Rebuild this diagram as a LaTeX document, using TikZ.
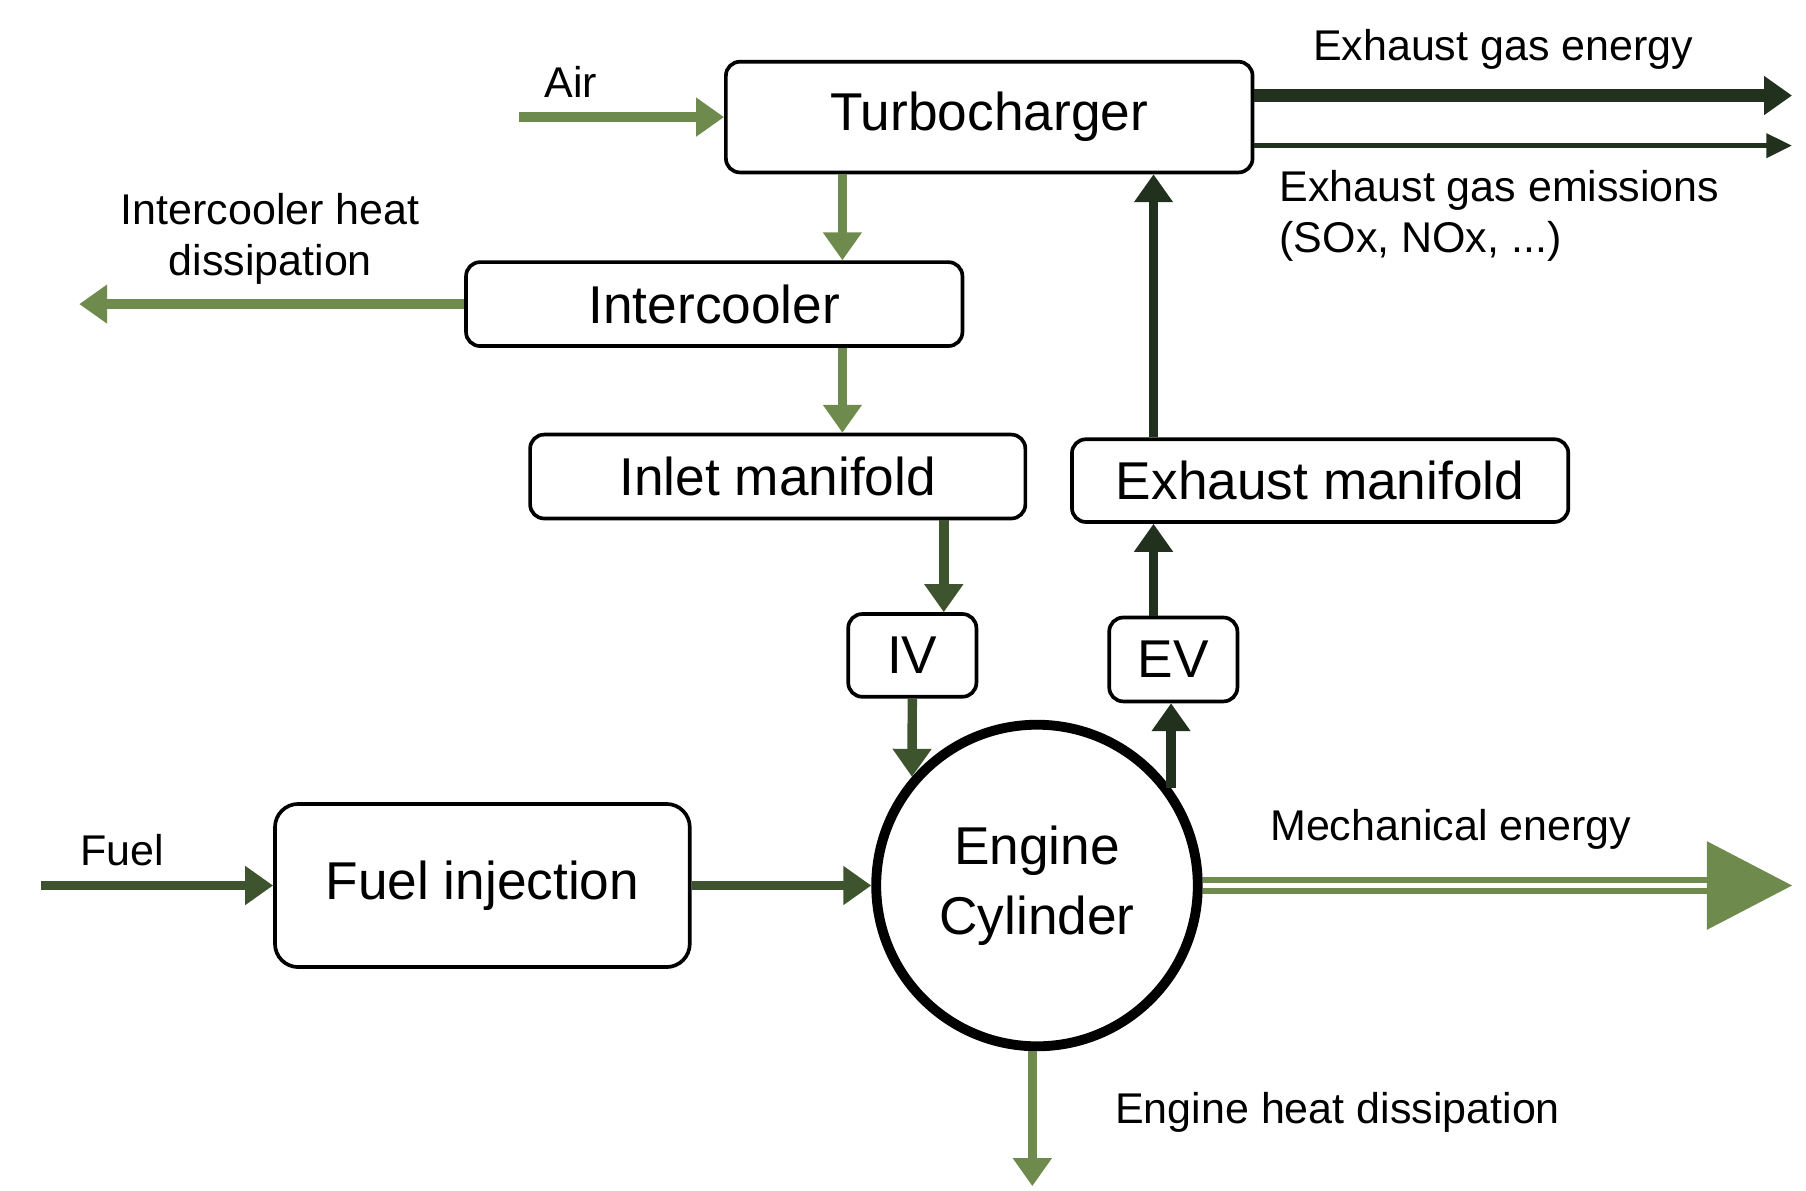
\documentclass[tikz,border=0pt]{standalone}
\usepackage{fontspec}
\setmainfont{Liberation Sans}
\usetikzlibrary{arrows.meta}
\definecolor{lgreen}{RGB}{110,138,76}
\definecolor{dgreen}{RGB}{62,84,46}
\definecolor{xgreen}{RGB}{34,48,30}
\tikzset{
  box/.style={draw, line width=0.9pt, rounded corners=0.12cm, inner sep=0pt, font=\fontsize{13}{15}\selectfont},
  lbl/.style={font=\fontsize{10.5}{12.5}\selectfont, inner sep=1pt},
  flow/.style={line width=2.3pt, -{Triangle[length=0.24cm,width=0.32cm]}},
}
\begin{document}
\begin{tikzpicture}
\useasboundingbox (0,0) rectangle (15.5,10.22);
% boxes
\node[box, minimum width=4.52cm, minimum height=0.95cm] (turbo) at (8.49,9.215) {Turbocharger};
\node[box, minimum width=4.26cm, minimum height=0.72cm] (ic) at (6.13,7.61) {Intercooler};
\node[box, minimum width=4.25cm, minimum height=0.72cm] (im) at (6.675,6.13) {Inlet manifold};
\node[box, minimum width=4.26cm, minimum height=0.71cm] (em) at (11.33,6.095) {Exhaust manifold};
\node[box, minimum width=1.1cm, minimum height=0.71cm] (iv) at (7.83,4.595) {IV};
\node[box, minimum width=1.1cm, minimum height=0.72cm] (ev) at (10.07,4.56) {EV};
\node[box, minimum width=3.56cm, minimum height=1.4cm, rounded corners=0.2cm] (fi) at (4.14,2.62) {Fuel injection};
\node[draw, circle, line width=2.4pt, minimum size=2.76cm, align=center, font=\fontsize{13}{17}\selectfont] (cyl) at (8.9,2.62) {Engine\\Cylinder};
% free ends
\coordinate (air) at (4.45,9.215);
\coordinate (ich) at (0.68,7.61);
\coordinate (ege) at (15.38,9.40);
\coordinate (egm) at (15.38,8.97);
\coordinate (fuel) at (0.35,2.62);
\coordinate (mech) at (14.65,2.62);
\coordinate (heat) at (8.86,0.04);
% connectors
\draw[flow, lgreen] (air) -- (turbo.west);
\draw[flow, lgreen] (turbo.south -| 7.23,0) -- (ic.north -| 7.23,0);
\draw[flow, lgreen] (ic.south -| 7.23,0) -- (im.north -| 7.23,0);
\draw[flow, lgreen] (ic.west) -- (ich);
\draw[flow, dgreen] (im.south -| 8.1,0) -- (iv.north -| 8.1,0);
\draw[flow, dgreen] (iv.south -| 7.83,0) -- (cyl.139);
\draw[flow, xgreen] (cyl.36) -- (ev.south -| cyl.36);
\draw[flow, xgreen] (ev.north -| 9.9,0) -- (em.south -| 9.9,0);
\draw[flow, xgreen] (em.north -| 9.9,0) -- (turbo.south -| 9.9,0);
\draw[flow, xgreen, line width=3pt] (turbo.east |- ege) -- (ege);
\draw[xgreen, line width=1.4pt, -{Triangle[length=0.22cm,width=0.2cm]}] (turbo.east |- egm) -- (egm);
\draw[flow, dgreen] (fuel) -- (fi.west);
\draw[flow, dgreen] (fi.east) -- (cyl.west);
\draw[lgreen, line width=0.045cm, double=white, double distance=0.05cm] (cyl.east) -- (mech);
\fill[lgreen] (14.65,3.0) -- (15.38,2.62) -- (14.65,2.24) -- cycle;
\draw[flow, lgreen] (cyl.south -| heat) -- (heat);
% labels
\node[lbl] at (4.9,9.52) {Air};
\node[lbl, align=center] at (2.32,8.17) {Intercooler heat\\dissipation};
\node[lbl] at (12.9,9.8) {Exhaust gas energy};
\node[lbl, align=left, anchor=north west] at (10.94,8.80) {Exhaust gas emissions\\(SOx, NOx, ...)};
\node[lbl] at (1.05,2.92) {Fuel};
\node[lbl] at (12.45,3.1) {Mechanical energy};
\node[lbl] at (11.48,0.67) {Engine heat dissipation};
\end{tikzpicture}
\end{document}
